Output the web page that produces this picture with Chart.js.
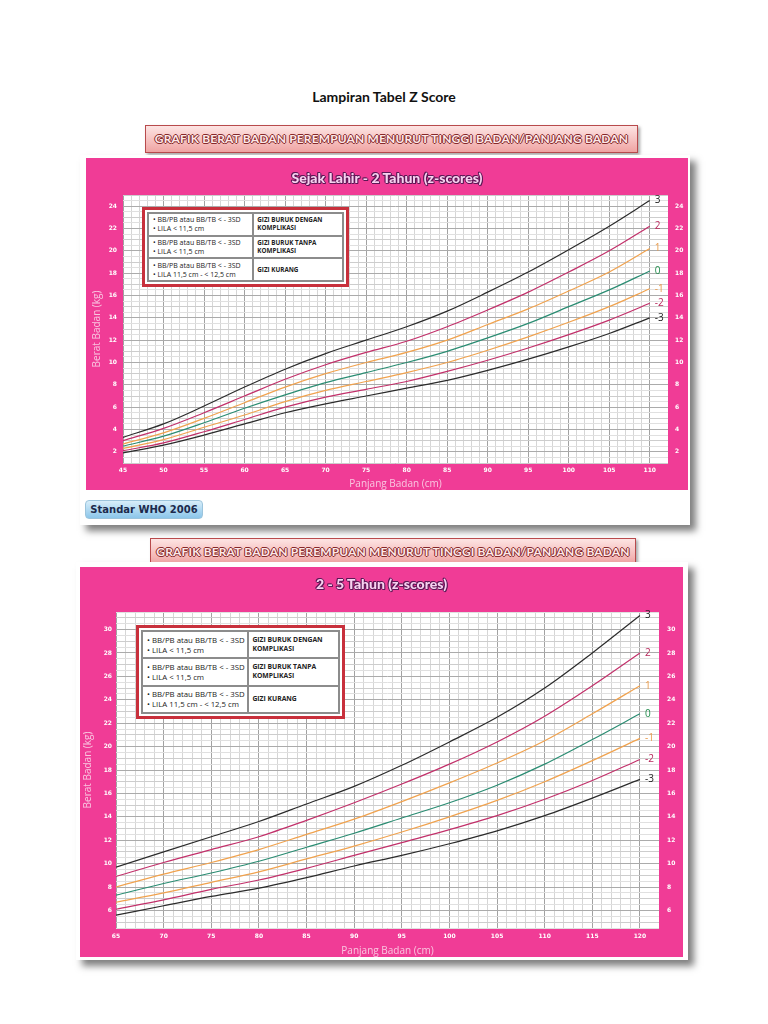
<!DOCTYPE html>
<html>
<head>
<meta charset="utf-8">
<script src="https://cdn.jsdelivr.net/npm/chart.js@4.4.0/dist/chart.umd.min.js"></script>
<style>
  body { margin: 0; width: 768px; height: 1024px; position: relative; background: #fff; overflow: hidden; font-family: "Open Sans", sans-serif; }
  .pageTitle { position: absolute; left: 0; width: 768px; top: 88px; text-align: center; font: bold 14px Lato, sans-serif; color: #111; }
  .banner { position: absolute; box-sizing: border-box; border: 1px solid #b84a4c; background: linear-gradient(#fde4e3, #f0a4a3);
    box-shadow: 2px 2px 3px rgba(0,0,0,0.35); text-align: center; font: bold 12px Lato, sans-serif; color: #fde9e9; white-space: nowrap;
    text-shadow: 1px 0 #86282a, -1px 0 #86282a, 0 1px #86282a, 0 -1px #86282a; letter-spacing: 0.15px; }
  .card { position: absolute; background: #fff; box-shadow: 6px 6px 7px rgba(0,0,0,0.5); }
  .panel { position: absolute; background: #f03c96; }
  .panel canvas { position: absolute; left: 0; top: 0; }
  .chartTitle { position: absolute; left: 0; right: 0; text-align: center; font: 900 14px Lato, sans-serif; color: #f8d2f0;
    text-shadow: 1px 0 #5e1856, -1px 0 #5e1856, 0 1px #5e1856, 0 -1px #5e1856, 1px 1px #5e1856, -1px -1px #5e1856; }
  .zbox { position: absolute; box-sizing: border-box; background: #fff; border: 3px solid #c8303c; padding: 2px; }
  .zbox table { border-collapse: collapse; width: 100%; height: 100%; }
  .zbox td { border: 2px solid #8c8c8c; color: #222; vertical-align: middle; line-height: 1.3; white-space: nowrap; }
  .zbox td.l { padding-left: 4px; }
  .zbox td.r { padding-left: 3px; font-weight: bold; }
  .who { position: absolute; left: 85px; top: 500px; width: 118px; height: 19px; box-sizing: border-box; border-radius: 4px;
    background: linear-gradient(#d8eefa, #8cc6ea); border: 1px solid #9cc4dc; font: bold 10px "DejaVu Sans", sans-serif;
    color: #1c2a4c; line-height: 17px; text-align: center; white-space: nowrap; }
</style>
</head>
<body>
<div class="pageTitle">Lampiran Tabel Z Score</div>

<div class="banner" style="left:145px; top:125px; width:493px; height:28px; line-height:26px;">GRAFIK BERAT BADAN PEREMPUAN MENURUT TINGGI BADAN/PANJANG BADAN</div>
<div class="card" style="left:80px; top:155px; width:610px; height:370px;"></div>
<div class="panel" style="left:86px; top:158px; width:602px; height:332px;">
  <canvas id="chartA" width="602" height="332"></canvas>
  <div class="chartTitle" style="top:11px;">Sejak Lahir - 2 Tahun (z-scores)</div>
</div>
<div class="zbox" style="left:142px; top:207px; width:207px; height:80px;">
  <table style="font-size:7px;">
    <tr><td class="l" style="width:54%;">• BB/PB atau BB/TB &lt; - 3SD<br>• LILA &lt; 11,5 cm</td><td class="r" style="font-size:6.3px;">GIZI BURUK DENGAN<br>KOMPLIKASI</td></tr>
    <tr><td class="l">• BB/PB atau BB/TB &lt; - 3SD<br>• LILA &lt; 11,5 cm</td><td class="r" style="font-size:6.3px;">GIZI BURUK TANPA<br>KOMPLIKASI</td></tr>
    <tr><td class="l">• BB/PB atau BB/TB &lt; - 3SD<br>• LILA 11,5 cm - &lt; 12,5 cm</td><td class="r" style="font-size:6.3px;">GIZI KURANG</td></tr>
  </table>
</div>
<div class="who">Standar WHO 2006</div>

<div class="banner" style="left:150px; top:538px; width:486px; height:27px; line-height:25px;">GRAFIK BERAT BADAN PEREMPUAN MENURUT TINGGI BADAN/PANJANG BADAN</div>
<div class="card" style="left:76px; top:562px; width:612px; height:398px;"></div>
<div class="panel" style="left:80px; top:567px; width:603px; height:390px;">
  <canvas id="chartB" width="603" height="390"></canvas>
  <div class="chartTitle" style="top:8px;">2 - 5 Tahun (z-scores)</div>
</div>
<div class="zbox" style="left:136px; top:625px; width:209px; height:94px;">
  <table style="font-size:7.8px;">
    <tr><td class="l" style="width:54%;">• BB/PB atau BB/TB &lt; - 3SD<br>• LILA &lt; 11,5 cm</td><td class="r" style="font-size:6.8px;">GIZI BURUK DENGAN<br>KOMPLIKASI</td></tr>
    <tr><td class="l">• BB/PB atau BB/TB &lt; - 3SD<br>• LILA &lt; 11,5 cm</td><td class="r" style="font-size:6.8px;">GIZI BURUK TANPA<br>KOMPLIKASI</td></tr>
    <tr><td class="l">• BB/PB atau BB/TB &lt; - 3SD<br>• LILA 11,5 cm - &lt; 12,5 cm</td><td class="r" style="font-size:6.8px;">GIZI KURANG</td></tr>
  </table>
</div>

<script>
// z-score curve labels and colours (3 .. -3)
const zLabels = ["3", "2", "1", "0", "-1", "-2", "-3"];
const zLineColors = ["#2b2b2b", "#c2306a", "#f0a24e", "#2a8c72", "#f0a24e", "#c2306a", "#2b2b2b"];
const zTextColors = ["#222222", "#b8285c", "#e89a4a", "#1e8a4a", "#e89a4a", "#b8285c", "#222222"];

// Chart A - birth to 2 years, weight for length
const lengthCm = [45, 50, 55, 60, 65, 70, 75, 80, 85, 90, 95, 100, 105, 110];
const wflPlus3  = [3.3, 4.5, 6.1, 7.8, 9.4, 10.8, 12.0, 13.2, 14.6, 16.3, 18.1, 20.1, 22.2, 24.5];
const wflPlus2  = [3.0, 4.1, 5.5, 7.0, 8.5, 9.8, 10.9, 11.9, 13.2, 14.7, 16.3, 18.1, 20.0, 22.2];
const wflPlus1  = [2.7, 3.7, 5.0, 6.4, 7.8, 9.0, 10.0, 10.9, 12.0, 13.4, 14.8, 16.4, 18.1, 20.2];
const wflMedian = [2.5, 3.4, 4.6, 5.9, 7.1, 8.2, 9.1, 10.0, 11.0, 12.2, 13.5, 15.0, 16.5, 18.2];
const wflMinus1 = [2.3, 3.1, 4.2, 5.3, 6.5, 7.5, 8.3, 9.1, 10.0, 11.1, 12.3, 13.6, 15.0, 16.6];
const wflMinus2 = [2.1, 2.8, 3.8, 4.9, 6.0, 6.9, 7.6, 8.3, 9.2, 10.2, 11.3, 12.5, 13.8, 15.3];
const wflMinus3 = [1.9, 2.6, 3.5, 4.5, 5.5, 6.3, 7.0, 7.7, 8.4, 9.3, 10.3, 11.4, 12.6, 14.0];

// Chart B - 2 to 5 years, weight for height
const heightCm = [65, 70, 75, 80, 85, 90, 95, 100, 105, 110, 115, 120];
const wfhPlus3  = [9.7, 11.0, 12.3, 13.6, 15.1, 16.6, 18.4, 20.4, 22.5, 25.0, 28.0, 31.2];
const wfhPlus2  = [8.9, 10.1, 11.2, 12.3, 13.7, 15.2, 16.8, 18.5, 20.4, 22.6, 25.2, 28.0];
const wfhPlus1  = [8.0, 9.1, 10.1, 11.2, 12.5, 13.8, 15.3, 16.9, 18.6, 20.5, 22.8, 25.2];
const wfhMedian = [7.3, 8.3, 9.2, 10.2, 11.4, 12.6, 13.9, 15.2, 16.7, 18.5, 20.6, 22.8];
const wfhMinus1 = [6.7, 7.5, 8.4, 9.3, 10.4, 11.5, 12.7, 14.0, 15.4, 17.0, 18.8, 20.7];
const wfhMinus2 = [6.1, 6.9, 7.8, 8.6, 9.6, 10.7, 11.8, 12.9, 14.1, 15.5, 17.1, 18.9];
const wfhMinus3 = [5.6, 6.4, 7.2, 7.9, 8.8, 9.8, 10.7, 11.7, 12.8, 14.1, 15.6, 17.2];

// white plotting area
const plotBg = {
  id: "plotBg",
  beforeDraw(chart) {
    const { ctx, chartArea: a } = chart;
    ctx.save();
    ctx.fillStyle = "#ffffff";
    ctx.fillRect(a.left, a.top, a.right - a.left, a.bottom - a.top);
    ctx.restore();
  },
};

// "3 2 1 0 -1 -2 -3" at the end of each curve
const zLabelPlugin = {
  id: "zLabels",
  afterDatasetsDraw(chart) {
    const ctx = chart.ctx;
    ctx.save();
    ctx.font = '10px "Open Sans"';
    ctx.textBaseline = "middle";
    chart.data.datasets.forEach((ds, i) => {
      const pts = chart.getDatasetMeta(i).data;
      const last = pts[pts.length - 1];
      ctx.fillStyle = zTextColors[i];
      ctx.fillText(zLabels[i], last.x + 5, last.y);
    });
    ctx.restore();
  },
};

function makeChart(canvasId, xs, series, cfg) {
  const datasets = series.map((values, i) => ({
    label: zLabels[i],
    data: xs.map((x, j) => ({ x: x, y: values[j] })),
    borderColor: zLineColors[i],
    borderWidth: 1.2,
    pointRadius: 0,
    fill: false,
    cubicInterpolationMode: "monotone",
  }));

  const tickFont = { size: 6, weight: "bold", family: "DejaVu Sans" };
  const yLabel = (v) => (v % 2 === 0 && v >= cfg.yLabelMin && v <= cfg.yLabelMax ? v : "");

  return new Chart(document.getElementById(canvasId), {
    type: "line",
    data: { datasets: datasets },
    plugins: [plotBg, zLabelPlugin],
    options: {
      responsive: false,
      animation: false,
      devicePixelRatio: 1,
      layout: { padding: { top: cfg.top, left: 0, right: 0, bottom: 0 } },
      plugins: { legend: { display: false }, tooltip: { enabled: false } },
      scales: {
        x: {
          type: "linear",
          min: cfg.xMin,
          max: cfg.xMax,
          border: { display: false },
          grid: {
            drawTicks: false,
            color: (c) => {
              const v = c.tick.value;
              if (v > cfg.xLast) return "rgba(0,0,0,0)";
              return v % 5 === 0 ? "#a2a2a2" : "#d6d6d6";
            },
          },
          ticks: {
            stepSize: 1,
            autoSkip: false,
            maxRotation: 0,
            color: "#ffffff",
            font: tickFont,
            padding: cfg.xPad,
            callback: (v) => (v % 5 === 0 && v <= cfg.xLast ? v : ""),
          },
          title: { display: true, text: "Panjang Badan (cm)", color: "#f9c6e0", font: { size: 10, family: "Open Sans" }, padding: 0 },
          afterFit: (s) => { s.height = cfg.xHeight; },
        },
        y: {
          position: "left",
          min: cfg.yMin,
          max: cfg.yMax,
          border: { display: false },
          grid: {
            drawTicks: false,
            color: (c) => {
              const v = c.tick.value;
              if (v % 2 === 0) return "#ababab";
              if (v % 1 === 0) return "#cdcdcd";
              return "#e0e0e0";
            },
          },
          ticks: { stepSize: 0.5, autoSkip: false, color: "#ffffff", font: tickFont, padding: cfg.yPad, callback: yLabel },
          title: { display: true, text: "Berat Badan (kg)", color: "#f9c6e0", font: { size: 10, family: "Open Sans" }, padding: cfg.yTitlePad },
          afterFit: (s) => { s.width = cfg.left; },
        },
        y2: {
          position: "right",
          min: cfg.yMin,
          max: cfg.yMax,
          border: { display: false },
          grid: { display: false, drawTicks: false },
          ticks: { stepSize: 0.5, autoSkip: false, color: "#ffffff", font: tickFont, padding: cfg.y2Pad, callback: yLabel },
          afterFit: (s) => { s.width = cfg.right; },
        },
      },
    },
  });
}

makeChart("chartA", lengthCm,
  [wflPlus3, wflPlus2, wflPlus1, wflMedian, wflMinus1, wflMinus2, wflMinus3],
  { xMin: 45, xMax: 112.25, xLast: 110, yMin: 1, yMax: 25, yLabelMin: 2, yLabelMax: 24,
    top: 37, left: 37, right: 20, xHeight: 27, xPad: 4, yPad: 6, y2Pad: 7, yTitlePad: { top: 5, bottom: 0 } });

makeChart("chartB", heightCm,
  [wfhPlus3, wfhPlus2, wfhPlus1, wfhMedian, wfhMinus1, wfhMinus2, wfhMinus3],
  { xMin: 65, xMax: 122, xLast: 120, yMin: 4.5, yMax: 31.5, yLabelMin: 6, yLabelMax: 30,
    top: 45, left: 36, right: 24, xHeight: 29, xPad: 5, yPad: 4, y2Pad: 8, yTitlePad: { top: 2, bottom: 0 } });
</script>
</body>
</html>
